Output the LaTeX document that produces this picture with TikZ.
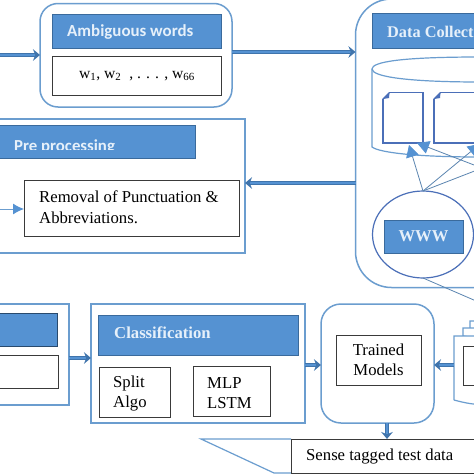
\documentclass[tikz,border=0pt]{standalone}
\usepackage{fontspec}
\setmainfont{Liberation Serif}
\newfontfamily\calfont{Carlito}
\usetikzlibrary{shapes.geometric,arrows.meta,calc}
\definecolor{hfill}{HTML}{5592D2}
\definecolor{hdraw}{HTML}{3A6A9C}
\definecolor{oline}{HTML}{6B9DCF}
\definecolor{docline}{HTML}{4B6FB8}
\definecolor{arrowc}{HTML}{3F74AC}
\definecolor{headtxt}{HTML}{E6F0FA}
\definecolor{boxline}{HTML}{3A3A3A}
\tikzset{
  basebox/.style={inner sep=0pt,outer sep=0pt,align=center},
  outerbox/.style={basebox,draw=oline,line width=1.5pt,fill=white},
  roundbox/.style={outerbox,rounded corners=18pt},
  header/.style={basebox,draw=hdraw,line width=0.9pt,fill=hfill,text=headtxt},
  textbox/.style={basebox,draw=boxline,line width=0.8pt,fill=white,text=black},
  docbox/.style={basebox,draw=docline,line width=1.2pt,fill=white},
  fatarrow/.style={draw=arrowc,line width=1.3pt,double=hfill,double distance=2.2pt,
    -{Stealth[length=7pt,width=11.5pt,color=arrowc,fill=arrowc]}},
  thinarrow/.style={draw=oline!85!black,line width=0.8pt,
    -{Triangle[length=12pt,width=13pt,color=hfill,fill=hfill]}},
  thinline/.style={draw=oline!85!black,line width=0.8pt},
  bodyfont/.style={font=\fontsize{16.7}{20}\selectfont},
}
\newcommand{\bx}[7][]{% style, name, x1,y1,x2,y2, text
  \pgfmathsetmacro{\bxcx}{(#3+#5)/2}\pgfmathsetmacro{\bxcy}{(#4+#6)/2}
  \pgfmathsetmacro{\bxw}{#5-#3}\pgfmathsetmacro{\bxh}{#6-#4}
  \node[#1,minimum width=\bxw pt,minimum height=\bxh pt] (#2) at (\bxcx,\bxcy) {#7};}
\begin{document}
\begin{tikzpicture}[x=1pt,y=-1pt]
\path[use as bounding box,clip] (0,0) rectangle (474,474);
\fill[white] (0,0) rectangle (474,474);

% Ambiguous words
\bx[roundbox]{amb}{40}{3.5}{232}{107}{}
\bx[header]{ambh}{52}{14}{221}{48}{}
\node[text=headtxt,anchor=west,inner sep=0pt] (ambt) at (67,32) {\calfont\fontsize{16.9}{18}\selectfont\bfseries Ambiguous words};
\bx[textbox]{ambb}{52}{56}{221}{95}{}
\node[inner sep=0pt,anchor=west] (ambw) at (79,76) {\fontsize{15.6}{17}\selectfont w$_{\mathrm{1}}$, w$_{\mathrm{2}}$\ \ , . . . , w$_{\mathrm{66}}$};

% Data collection
\bx[outerbox,rounded corners=36pt]{data}{355.5}{-1}{540}{287.5}{}
\bx[header]{datah}{372}{13.5}{500}{48}{}
\node[text=headtxt,anchor=west,inner sep=0pt] (datat) at (387,32) {\fontsize{16.3}{18}\selectfont\bfseries Data Collect};
% cylinder
\draw[draw=oline,line width=1.2pt,fill=white] (372,69) .. controls (372,62) and (400,57) .. (480,57) .. controls (530,57) and (560,60) .. (590,69)
  -- (590,147) .. controls (560,154) and (530,157) .. (480,157) .. controls (420,157) and (380,153) .. (372,147) -- cycle;
\draw[draw=oline,line width=1.2pt] (372,69) .. controls (372,77) and (410,82) .. (480,82);
% documents
\bx[docbox]{doca}{383}{92.5}{423}{143}{}
\bx[docbox]{docb}{434}{92.5}{490}{143}{}
\fill[white] (381,91) rectangle (389,98.5);
\fill[white] (432,91) rectangle (440,98.5);
\fill[docline] (383,99) -- (389.5,92.5) -- (389,98) -- cycle;
\fill[docline] (434,99) -- (440.5,92.5) -- (440,98) -- cycle;
\draw[docline,line width=1.2pt] (383,143) -- (383,99) -- (389.5,92.5);
\draw[docline,line width=1.2pt] (434,143) -- (434,99) -- (440.5,92.5);
% www
\node[ellipse,basebox,draw=docline,line width=1.2pt,fill=white,minimum width=101pt,minimum height=87pt] (www) at (423,234.5) {};
\bx[header]{wwwh}{384}{220}{463}{253}{\fontsize{16.6}{18}\selectfont\bfseries WWW}
\coordinate (fa) at (490,165);
\coordinate (fe) at (490,307);
\coordinate (fd) at (474,165);
\coordinate (fg) at (474,156);
\draw[thinarrow] (www.north) -- ($(doca.south)+(6,2)$);
\draw[thinarrow] (www.north) -- ($(docb.south)+(18,1)$);
\draw[thinline] (www.north) -- (fa);
\draw[thinarrow] (fd) -- ($(doca.south)+(14,0)$);
\draw[thinarrow] (fg) -- ($(docb.south)+(24,1)$);
\draw[thinline] (www.south) -- (fe);

% Pre processing
\bx[outerbox]{pre}{-10}{119}{245}{253}{}
\bx[header]{preh}{-5}{125}{195}{158}{}
\begin{scope}
\clip (0,125) rectangle (195,149.5);
\node[text=headtxt,anchor=base west,inner sep=0pt] (pret) at (14,151) {\calfont\fontsize{16.8}{18}\selectfont\bfseries Pre processing};
\end{scope}
\bx[textbox]{prem}{24}{180}{239}{236}{}
\node[anchor=west,align=left,inner sep=0pt,text=black,font=\fontsize{16.7}{21}\selectfont] (premt) at (39,207.5) {Removal of Punctuation \&\\Abbreviations.};
\coordinate (prein) at (0,209);
\draw[draw=oline,line width=1pt,-{Latex[length=11pt,width=11pt,color=hfill,fill=hfill]}] (prein) -- (prem.west |- prein);

% Bottom-left
\bx[outerbox]{feat}{-10}{304}{69}{405}{}
\bx[header,draw=hdraw!70!black]{feath}{-5}{313}{57}{346}{}
\bx[textbox]{featb}{-5}{355}{58}{388}{}

% Classification
\bx[outerbox]{cls}{91}{304}{305}{423}{}
\bx[header]{clsh}{98}{315}{298}{355}{}
\node[text=headtxt,anchor=west,inner sep=0pt] (clst) at (114,333) {\fontsize{16.7}{18}\selectfont\bfseries Classification};
\bx[textbox]{clsa}{99}{367}{170}{417}{}
\node[anchor=west,align=left,inner sep=0pt,text=black,bodyfont] (clsat) at (113,394) {Split\\Algo};
\bx[textbox]{clsb}{193}{366}{270}{416}{}
\node[anchor=west,align=left,inner sep=0pt,text=black,bodyfont] (clsbt) at (207,393) {MLP\\LSTM};

% Trained models
\bx[roundbox,rounded corners=20pt]{tm}{321}{304}{434}{423}{}
\bx[textbox,bodyfont]{tmb}{336}{335}{421}{385}{Trained\\Models}

% Multi-document
\draw[draw=oline,line width=1.2pt,fill=white] (470,328) -- (470,321) -- (490,321) -- (490,340) -- (463,340) -- cycle;
\draw[draw=oline,line width=1.2pt,fill=white] (463,336) -- (463,328) -- (490,328) -- (490,340) -- cycle;
\draw[draw=oline,line width=1.2pt,fill=white] (454,400) -- (454,336) -- (490,336) -- (490,405) .. controls (475,405) and (465,403) .. (454,400);
\coordinate (sf) at (454,365);
\bx[textbox]{sb}{463}{346}{500}{385}{}

% Sense tagged test data callout
\draw[draw=oline,line width=1.2pt,fill=white] (291,439) -- (201,439) -- (274,473) -- (291,473);
\bx[textbox]{st}{291}{439}{500}{473}{}
\node[anchor=west,inner sep=0pt,text=black,bodyfont] (stt) at (306,457) {Sense tagged test data};

% fat connectors
\coordinate (inL) at (0,55);
\draw[fatarrow] (inL) -- (inL -| amb.west);
\draw[fatarrow] (amb.east |- 0,52) -- (data.west |- 0,52);
\draw[fatarrow] (data.west |- 0,183) -- (pre.east |- 0,183);
\draw[fatarrow] (feat.east |- 0,358) -- (cls.west |- 0,358);
\draw[fatarrow] (cls.east |- 0,365) -- (tm.west |- 0,365);
\draw[fatarrow] (sf) -- (sf -| tm.east);
\draw[fatarrow] (tm.south -| 387,0) -- (st.north -| 387,0);
\end{tikzpicture}
\end{document}
